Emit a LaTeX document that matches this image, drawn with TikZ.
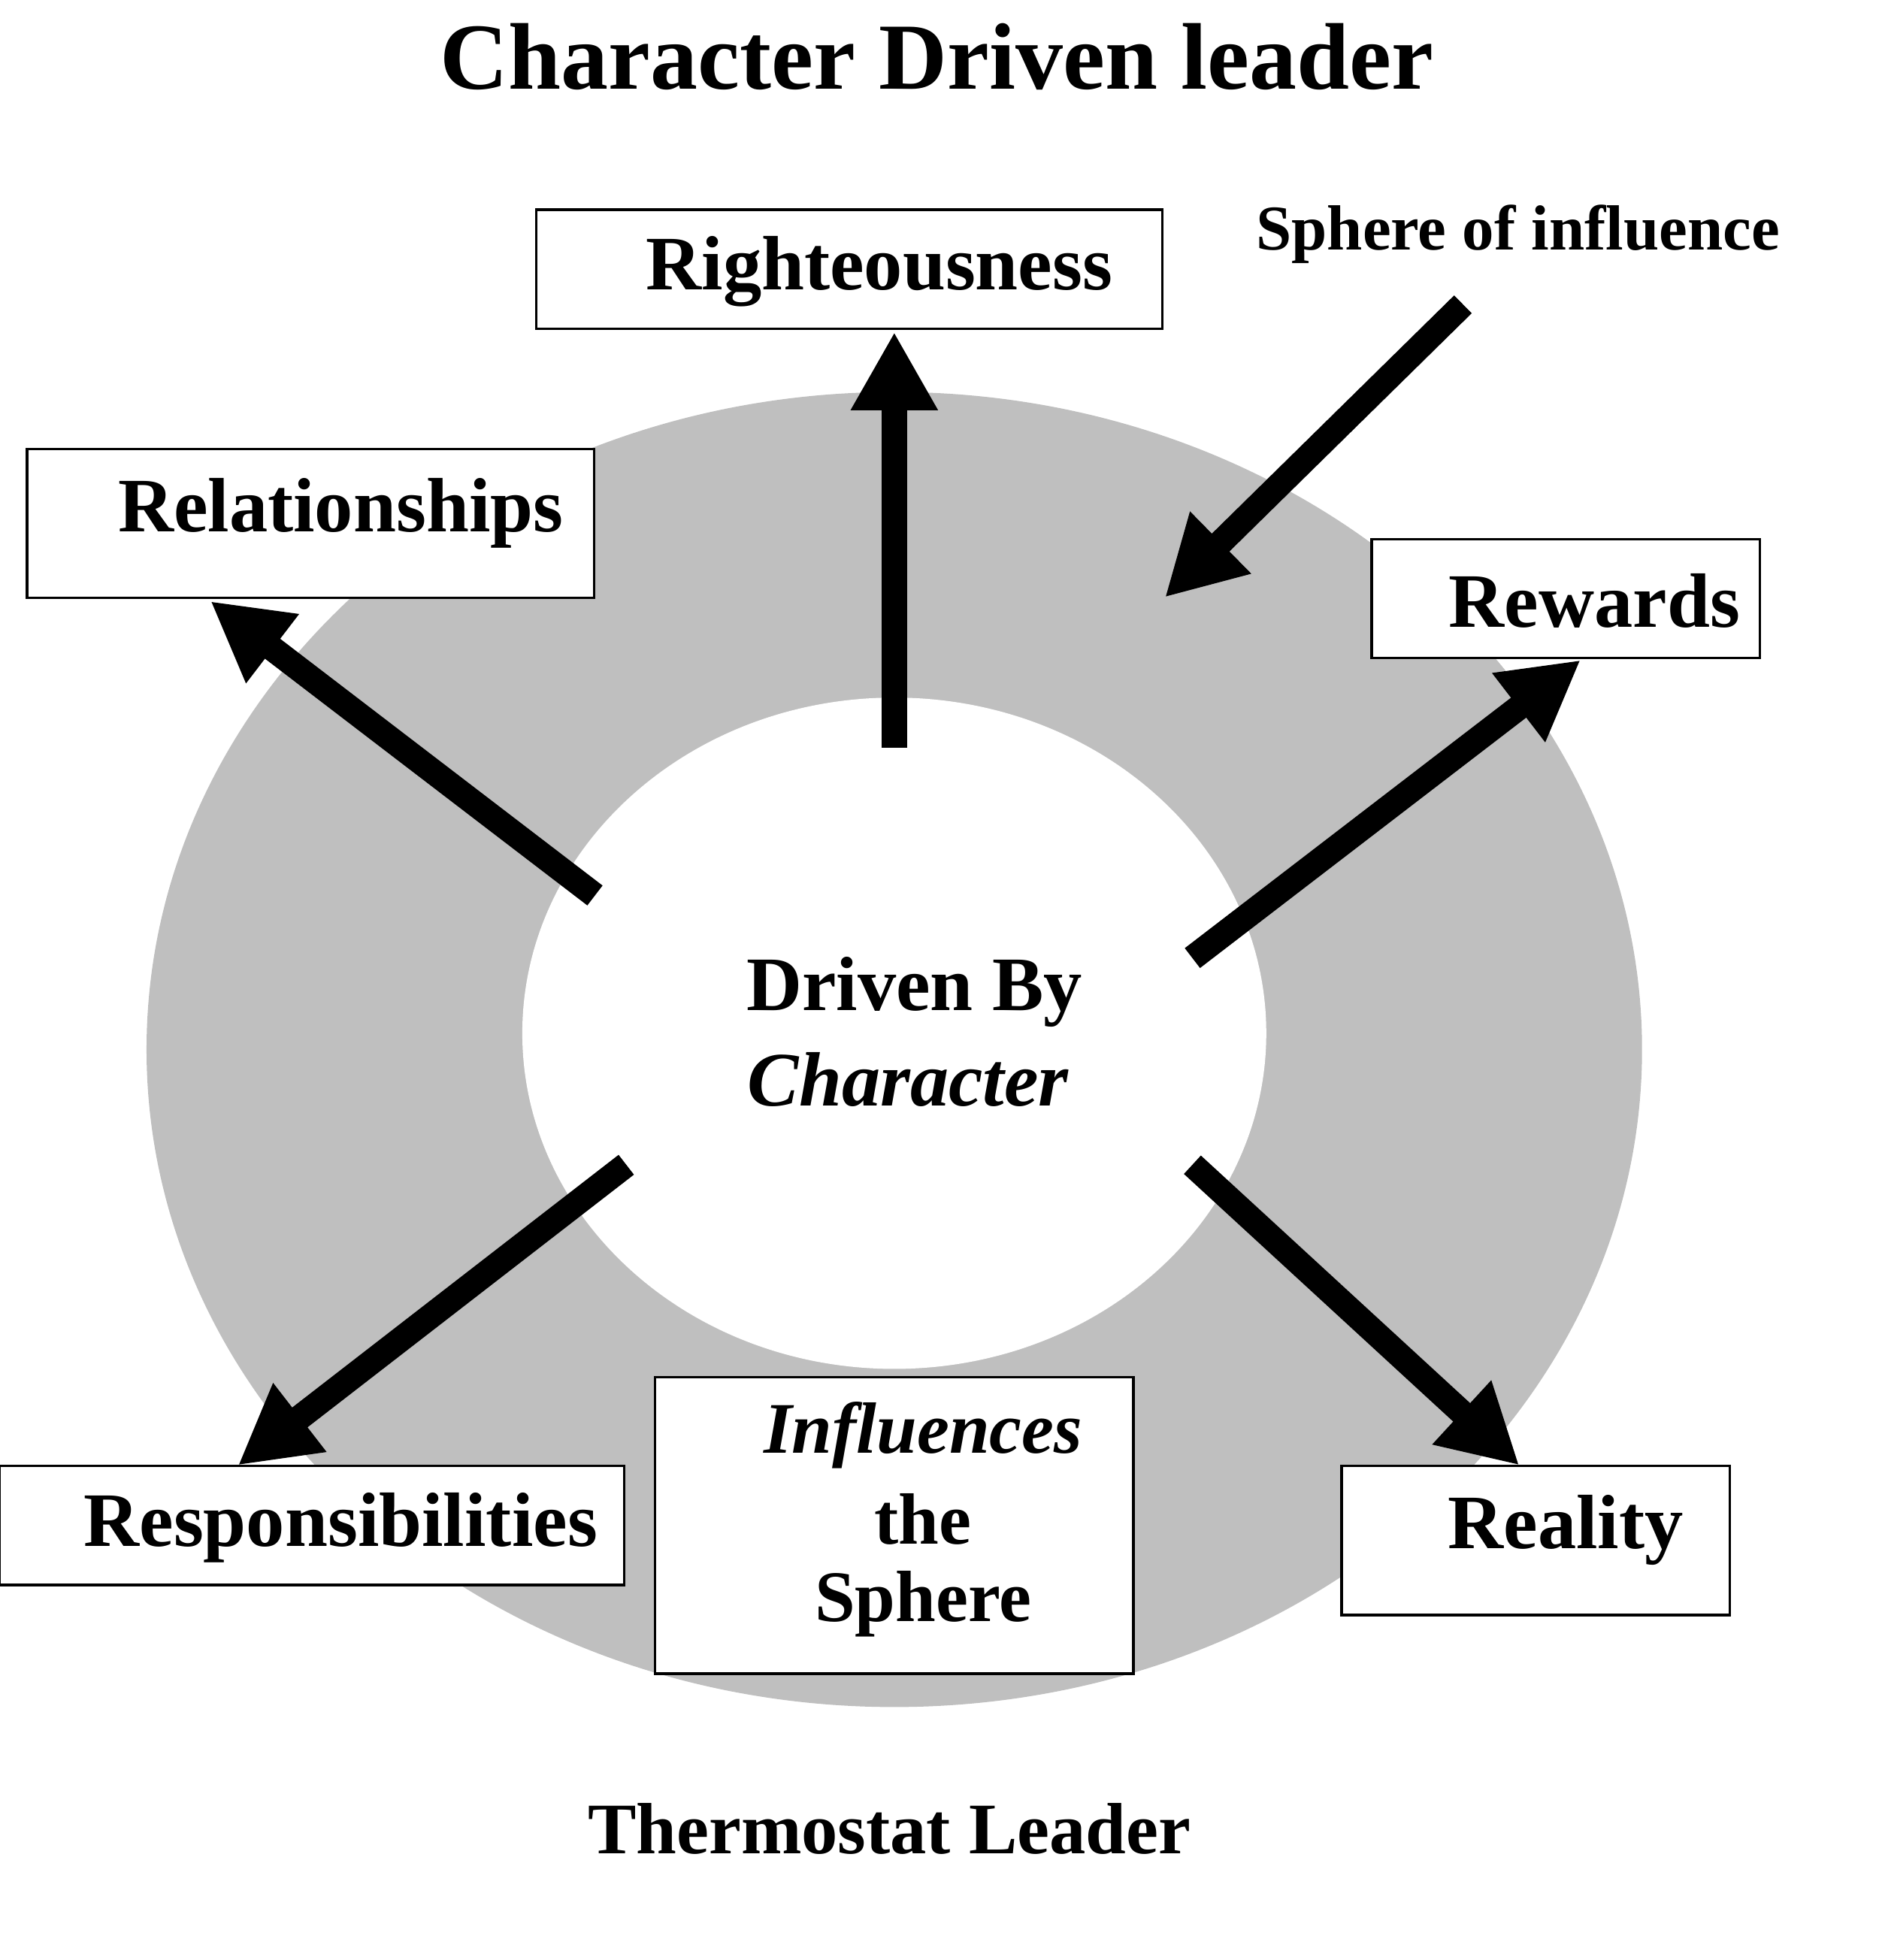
\documentclass[tikz,border=0pt]{standalone}
\usepackage{fontspec}
\setmainfont{Liberation Serif}
\usetikzlibrary{arrows.meta}
\begin{document}
\begin{tikzpicture}[x=0.02cm,y=-0.02cm,
  box/.style={draw,line width=1.2pt,fill=white,inner sep=0pt},
  lbl/.style={font=\bfseries\fontsize{35}{40}\selectfont,inner sep=0pt},
  bigarrow/.style={line width=0.4cm,-{Triangle[width=1.3cm,length=1.25cm]}}]
\useasboundingbox (0,0) rectangle (1500,1565);
\fill[gray!50] (714,838) ellipse [x radius=597, y radius=525];
\fill[white] (714,825) ellipse [x radius=297, y radius=268];
% boxes
\node[box,minimum width=10cm,minimum height=1.9cm] (bR) at (678,215) {};
\node[box,minimum width=9.06cm,minimum height=2.38cm] (bRel) at (248,418) {};
\node[box,minimum width=6.2cm,minimum height=1.9cm] (bRew) at (1250,478) {};
\node[box,minimum width=9.98cm,minimum height=1.9cm] (bResp) at (249,1218) {};
\node[box,minimum width=7.64cm,minimum height=4.74cm] (bInf) at (714,1218) {};
\node[box,minimum width=6.2cm,minimum height=2.38cm] (bReal) at (1226,1230) {};
% texts
\node[font=\bfseries\fontsize{43}{48}\selectfont,inner sep=0pt] (title) at (748,45) {Character Driven leader};
\node[font=\bfseries\fontsize{29}{34}\selectfont,inner sep=0pt] (soi) at (1212,187) {Sphere of influence};
\node[font=\bfseries\fontsize{33}{38}\selectfont,inner sep=0pt] (thermo) at (710,1460) {Thermostat Leader};
\node[lbl] (tR) at (702,217) {Righteousness};
\node[lbl] (tRel) at (272,410) {Relationships};
\node[lbl] (tRew) at (1273,480) {Rewards};
\node[lbl] (tResp) at (272,1220) {Responsibilities};
\node[lbl] (tReal) at (1250,1222) {Reality};
\node[lbl] (d1) at (730,792) {Driven By};
\node[lbl,font=\bfseries\itshape\fontsize{35}{40}\selectfont] (d2) at (725,862) {Character};
\node[lbl,font=\bfseries\itshape\fontsize{33}{38}\selectfont] (i1) at (737,1146) {Influences};
\node[lbl,font=\bfseries\fontsize{33}{38}\selectfont] (i2) at (737,1213) {the};
\node[lbl,font=\bfseries\fontsize{33}{38}\selectfont] (i3) at (737,1281) {Sphere};
% arrow endpoints
\coordinate (aU0) at (714,597); \coordinate (aU1) at (714,265);
\coordinate (aL0) at (475,715); \coordinate (aL1) at (168,480);
\coordinate (aW0) at (952,765); \coordinate (aW1) at (1262,527);
\coordinate (aS0) at (500,930); \coordinate (aS1) at (190,1170);
\coordinate (aE0) at (952,930); \coordinate (aE1) at (1213,1170);
\coordinate (aI0) at (1168,243); \coordinate (aI1) at (930,477);
\draw[bigarrow] (aU0) -- (aU1);
\draw[bigarrow] (aL0) -- (aL1);
\draw[bigarrow] (aW0) -- (aW1);
\draw[bigarrow] (aS0) -- (aS1);
\draw[bigarrow] (aE0) -- (aE1);
\draw[bigarrow] (aI0) -- (aI1);
\end{tikzpicture}
\end{document}
